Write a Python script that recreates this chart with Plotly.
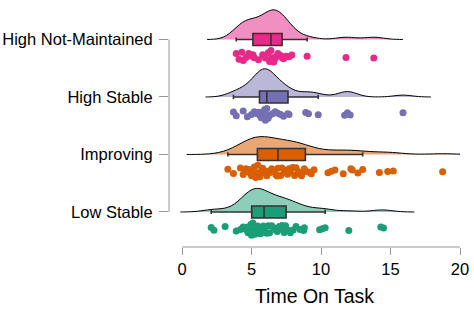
import numpy as np
import plotly.graph_objects as go

# ---------------- data ----------------
categories = ["High Not-Maintained", "High Stable", "Improving", "Low Stable"]

high_not_maintained = [3.9, 4.1, 4.3, 4.4, 4.6, 4.8, 5.0, 5.1, 5.2, 5.5, 5.8, 6.0,
                       6.2, 6.3, 6.4, 6.4, 6.5, 6.6, 6.7, 6.8, 6.9, 7.1, 7.2, 7.3,
                       7.5, 7.7, 7.9, 9.0, 11.8, 13.8]
high_stable = [3.7, 3.9, 4.4, 4.7, 5.0, 5.2, 5.4, 5.5, 5.6, 5.7, 5.8, 5.9, 5.95,
               6.0, 6.05, 6.1, 6.1, 6.2, 6.3, 6.5, 6.7, 6.9, 7.1, 7.3, 7.6, 7.7,
               8.9, 9.1, 9.8, 11.7, 11.9, 12.1, 15.9]
improving = [3.3, 3.7, 4.2, 4.4, 4.5, 4.6, 4.7, 4.8, 4.9, 5.0, 5.05, 5.1, 5.2,
             5.3, 5.35, 5.45, 5.5, 5.6, 5.7, 5.75, 5.8, 5.9, 6.0, 6.1, 6.2, 6.3,
             6.45, 6.6, 6.75, 6.85, 6.9, 7.1, 7.2, 7.35, 7.5, 7.6, 7.7, 7.8,
             7.95, 8.1, 8.2, 8.35, 8.5, 8.6, 8.7, 8.8, 9.1, 9.3, 9.5, 10.5,
             10.75, 11.0, 11.6, 12.15, 12.25, 12.65, 13.0, 14.2, 14.8, 15.2, 18.75]
low_stable = [2.1, 2.3, 3.1, 3.9, 4.2, 4.4, 4.5, 4.6, 4.7, 4.75, 4.8, 4.9, 4.95,
              5.0, 5.05, 5.1, 5.2, 5.25, 5.3, 5.4, 5.45, 5.5, 5.6, 5.65, 5.7,
              5.8, 5.85, 5.9, 6.0, 6.1, 6.2, 6.3, 6.45, 6.6, 6.75, 6.85, 7.0,
              7.1, 7.2, 7.35, 7.45, 7.5, 7.65, 7.8, 8.0, 8.2, 8.5, 8.75, 8.8,
              9.9, 10.1, 10.3, 12.0, 14.3, 14.5]

x_ticks = [0, 5, 10, 15, 20]
x_title = "Time On Task"

# ---------------- style ----------------
series = [high_not_maintained, high_stable, improving, low_stable]
point_colors = ["#E7298A", "#7570B3", "#D95F02", "#1B9E77"]
violin_fills = ["rgba(231,41,138,0.52)", "rgba(117,112,179,0.5)",
                "rgba(217,95,2,0.55)", "rgba(27,158,119,0.5)"]
violin_widths = [1.03, 0.98, 0.62, 0.82]
axis_gray = "#969696"
font_family = "Liberation Sans, Arial, sans-serif"

fig = go.Figure()

# half violins (clouds)
for cat, vals, fill, w in zip(categories, series, violin_fills, violin_widths):
    v = np.asarray(vals, dtype=float)
    q1, q3 = np.percentile(v, [25, 75])
    bw = 0.9 * min(v.std(ddof=1), (q3 - q1) / 1.34) * len(v) ** -0.2
    fig.add_trace(go.Violin(
        x=v, y=[cat] * len(v), orientation="h", side="positive",
        points=False, box_visible=False, meanline_visible=False,
        bandwidth=bw, spanmode="manual", span=[v.min() - 3 * bw, v.max() + 3 * bw],
        width=w, scalemode="width",
        line=dict(color="black", width=1), fillcolor=fill,
        hoverinfo="skip", showlegend=False,
    ))

# rain (jittered points) via an invisible box carrier
for cat, vals, col in zip(categories, series, point_colors):
    v = np.asarray(vals, dtype=float)
    fig.add_trace(go.Box(
        x=v, y=[cat] * len(v), orientation="h",
        boxpoints="all", jitter=0.8, pointpos=-2,
        width=0.29, whiskerwidth=0, fillcolor="rgba(0,0,0,0)",
        line=dict(color="rgba(0,0,0,0)", width=0),
        marker=dict(color=col, size=7, line=dict(width=0)),
        showlegend=False, hoverinfo="x",
    ))

# boxplots (Tukey whiskers; outlier markers hidden since all points are shown as rain)
for cat, vals, col in zip(categories, series, point_colors):
    v = np.asarray(vals, dtype=float)
    fig.add_trace(go.Box(
        x=v, y=[cat] * len(v), orientation="h",
        boxpoints="outliers", pointpos=0, jitter=0,
        width=0.21, whiskerwidth=0.35,
        fillcolor=col, line=dict(color="#333333", width=1.6),
        marker=dict(opacity=0, size=1, color=col),
        showlegend=False,
    ))

fig.update_layout(
    width=474, height=315,
    margin=dict(l=169, r=14, t=2, b=68),
    paper_bgcolor="white", plot_bgcolor="white",
    font=dict(family=font_family, color="black"),
    boxmode="overlay", violinmode="overlay",
    xaxis=dict(
        range=[-0.936, 20], tickmode="array", tickvals=x_ticks,
        ticks="outside", ticklen=7, tickcolor=axis_gray, tickwidth=1,
        showgrid=False, zeroline=False, showline=False,
        tickfont=dict(size=16.5, color="black"),
        title=dict(text=x_title, font=dict(size=19.5, color="black"), standoff=12),
    ),
    yaxis=dict(
        type="category", categoryorder="array", categoryarray=categories[::-1],
        range=[-0.609, 3.652],
        ticks="outside", ticklen=9, tickcolor=axis_gray, tickwidth=1,
        ticklabelstandoff=3,
        showgrid=False, zeroline=False, showline=False,
        tickfont=dict(size=16.5, color="black"),
    ),
    shapes=[
        dict(type="line", xref="x", yref="paper", x0=x_ticks[0], x1=x_ticks[-1],
             y0=0, y1=0, line=dict(color=axis_gray, width=1)),
        dict(type="line", xref="paper", yref="y", x0=0, x1=0,
             y0=0, y1=len(categories) - 1, line=dict(color=axis_gray, width=1)),
    ],
)

fig.write_html("out.html")
